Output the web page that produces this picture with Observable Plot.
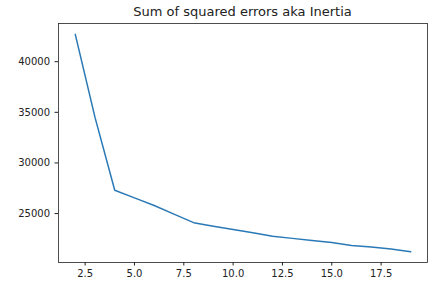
<!DOCTYPE html>
<html>
<head>
<meta charset="utf-8">
<script src="https://cdn.jsdelivr.net/npm/d3@7"></script>
<script src="https://cdn.jsdelivr.net/npm/@observablehq/plot@0.6"></script>
<style>
  html, body { margin: 0; padding: 0; background: #fff; }
  #wrap { width: 443px; }
  #title { box-sizing: border-box; width: 443px; height: 20px; padding: 0 16px 0 58px; text-align: center;
           font-family: "DejaVu Sans", sans-serif; font-size: 13px; line-height: 24px; color: #222; overflow: visible; white-space: nowrap; }
  #chart svg { display: block; font-family: "DejaVu Sans", sans-serif; }
</style>
</head>
<body>
<div id="wrap">
  <div id="title"></div>
  <div id="chart"></div>
</div>
<script>
const title = "Sum of squared errors aka Inertia";
const clusters = [2, 3, 4, 5, 6, 7, 8, 9, 10, 11, 12, 13, 14, 15, 16, 17, 18, 19];
const inertia = [42700, 34500, 27300, 26550, 25800, 24950, 24100, 23750, 23430, 23100, 22760, 22550, 22330, 22150, 21850, 21700, 21500, 21240];
const xTicks = [2.5, 5.0, 7.5, 10.0, 12.5, 15.0, 17.5];
const yTicks = [25000, 30000, 35000, 40000];

document.getElementById("title").textContent = title;

const data = clusters.map((k, i) => ({k, v: inertia[i]}));
const xmin = d3.min(clusters), xmax = d3.max(clusters);
const ymin = d3.min(inertia), ymax = d3.max(inertia);
const xm = (xmax - xmin) * 0.05, ym = (ymax - ymin) * 0.05;

const chart = Plot.plot({
  width: 443,
  height: 269,
  marginLeft: 58,
  marginRight: 16,
  marginTop: 3,
  marginBottom: 27,
  style: {fontFamily: "DejaVu Sans, sans-serif", fontSize: "10px", color: "#222", background: "#fff"},
  x: {domain: [xmin - xm, xmax + xm]},
  y: {domain: [ymin - ym, ymax + ym]},
  marks: [
    Plot.line(data, {x: "k", y: "v", stroke: "#2a79b6", strokeWidth: 1.5}),
    Plot.frame({stroke: "#222", strokeWidth: 0.8}),
    Plot.axisX({ticks: xTicks, tickFormat: d => d.toFixed(1), tickSize: 3.5, tickPadding: 3.5, stroke: "#222", fill: "#222", label: null, fontSize: 10}),
    Plot.axisY({ticks: yTicks, tickFormat: d => String(d), tickSize: 3.5, tickPadding: 5, stroke: "#222", fill: "#222", label: null, fontSize: 10})
  ]
});
document.getElementById("chart").appendChild(chart);
</script>
</body>
</html>
